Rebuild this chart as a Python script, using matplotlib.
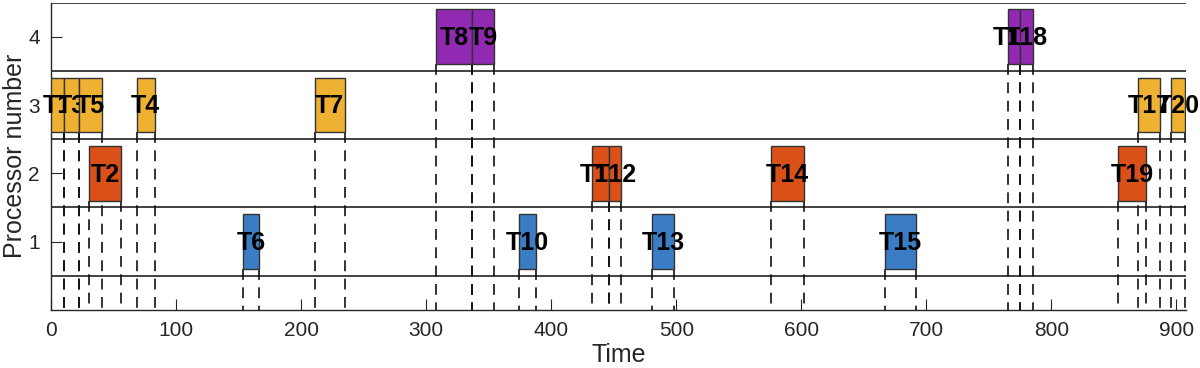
import matplotlib.pyplot as plt
from matplotlib.patches import Rectangle

plt.rcParams['font.family'] = ['Liberation Sans', 'DejaVu Sans']

# schedule: task, processor, start, finish
tasks = ['T%d' % i for i in range(1, 21)]
procs = [3, 2, 3, 3, 3, 1, 3, 4, 4, 1, 2, 2, 1, 2, 1, 4, 3, 4, 2, 3]
starts = [0, 30.5, 10, 68.5, 22.5, 153.5, 211, 308, 337, 374.5,
          433, 446, 481, 576, 667, 765, 869, 775, 853, 896]
ends = [10, 56, 22.5, 83, 40.5, 166.5, 235, 337, 354.5, 387.5,
        446, 456, 498, 602, 692, 775, 887, 785, 876, 907]
proc_colors = {1: '#3a7dc4', 2: '#da5019', 3: '#efb131', 4: '#9229b3'}
xticks = list(range(0, 1000, 100))
yticks = [1, 2, 3, 4]

AX = '#262626'
fig = plt.figure(figsize=(12, 3.68), dpi=100)
ax = fig.add_axes([0.0425, 0.158, 0.946, 0.835])

makespan = max(ends)
ax.set_xlim(0, makespan + 0.8)
ax.set_ylim(0, 4.5)

# row separators
for y in [0.5, 1.5, 2.5, 3.5, 4.5]:
    ax.axhline(y, color='#333333', lw=1.3, zorder=1)

h = 0.4
for t, p, s, e in zip(tasks, procs, starts, ends):
    for x in (s, e):
        ax.plot([x, x], [p - h, 0], color='#111111', lw=1.2,
                dashes=(6.5, 4.5), zorder=2)

for t, p, s, e in zip(tasks, procs, starts, ends):
    ax.add_patch(Rectangle((s, p - h), e - s, 2 * h, facecolor=proc_colors[p],
                           edgecolor='#333333', lw=1.0, zorder=3))
    ax.text((s + e) / 2, p - 0.02, t, ha='center', va='center', fontsize=18,
            fontweight='bold', color='black', zorder=3)

ax.spines['top'].set_visible(False)
ax.spines['right'].set_visible(False)
for sp in ('left', 'bottom'):
    ax.spines[sp].set_color(AX)
    ax.spines[sp].set_linewidth(1.0)
ax.set_xticks(xticks)
ax.set_yticks(yticks)
ax.tick_params(direction='in', length=8, width=0.8, colors=AX,
               labelsize=15, pad=8)
ax.set_xlabel('Time', fontsize=18, color=AX, labelpad=2)
ax.set_ylabel('Processor number', fontsize=18, color=AX, labelpad=1)

fig.savefig('out.png')
